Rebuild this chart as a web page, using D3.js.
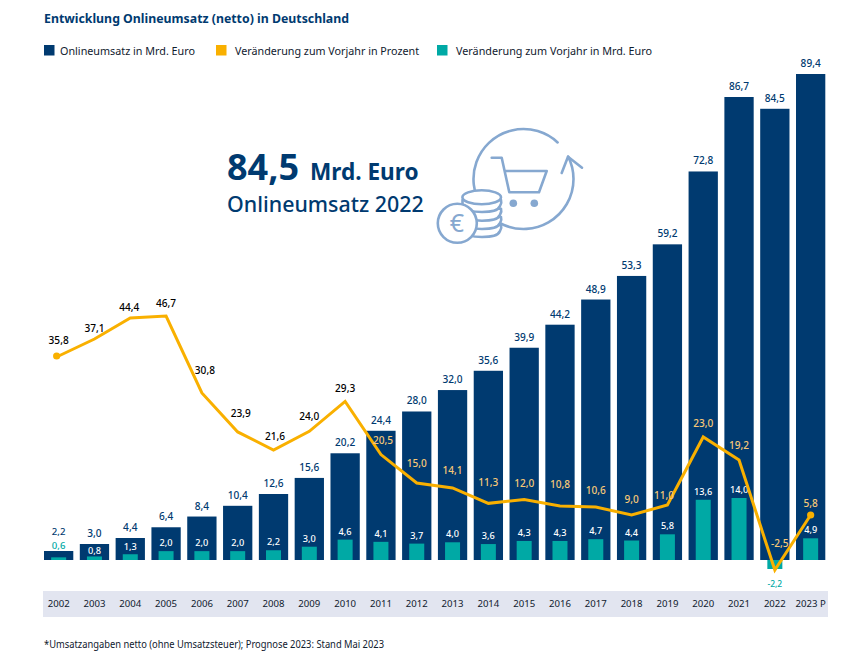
<!DOCTYPE html>
<html lang="de">
<head>
<meta charset="utf-8">
<script src="https://cdn.jsdelivr.net/npm/d3@7"></script>
<style>
html,body{margin:0;padding:0;background:#fff}
svg{display:block;font-family:"Noto Sans",sans-serif}
</style>
</head>
<body>
<svg id="c" width="854" height="657"></svg>
<script>
// ---- data ----
const jahre = ["2002","2003","2004","2005","2006","2007","2008","2009","2010","2011","2012","2013","2014","2015","2016","2017","2018","2019","2020","2021","2022","2023 P"];
const umsatz = [2.2,3.0,4.4,6.4,8.4,10.4,12.6,15.6,20.2,24.4,28.0,32.0,35.6,39.9,44.2,48.9,53.3,59.2,72.8,86.7,84.5,89.4];
const prozent = [35.8,37.1,44.4,46.7,30.8,23.9,21.6,24.0,29.3,20.5,15.0,14.1,11.3,12.0,10.8,10.6,9.0,11.0,23.0,19.2,-2.5,5.8];
const mrd = [0.6,0.8,1.3,2.0,2.0,2.0,2.2,3.0,4.6,4.1,3.7,4.0,3.6,4.3,4.3,4.7,4.4,5.8,13.6,14.0,-2.2,4.9];
const legende = ["Onlineumsatz in Mrd. Euro","Veränderung zum Vorjahr in Prozent","Veränderung zum Vorjahr in Mrd. Euro"];

// ---- label placement (layout, not data) ----
const prozentDx = [0,0,-1,0,3,3,1.5,0,0,2,0,0,0,0,0,0,0,-3.5,0,0,5,0];
const prozentDy = [-16,-11,-11,-13,-23,-19,-14,-15,-12.6,-14.6,-20,-18,-21,-16,-22,-17,-16,-10,-14,-15,-27,-12];

// ---- colours ----
const navy="#003a70", amber="#f9b000", teal="#00a9a5", pale="#f6c877", band="#e2e5f0", iconCol="#86a8d0", ink="#10202e";

const svg=d3.select("#c");
const fmt=d3.formatLocale({decimal:",",thousands:".",grouping:[3],currency:["","€"],minus:"-"}).format(".1f");

// ---- scales ----
const x=d3.scaleBand().domain(jahre).range([44,825.3]).paddingInner(0.182).paddingOuter(0);
const cx=d=>x(d)+x.bandwidth()/2;
const yBar=d3.scaleLinear().domain([0,2.2,3,4.4,12.6,86.7,89.4]).range([560,551,544,538,494,97,74]);
const yDelta=d3.scaleLinear().domain([-2.2,0,14]).range([569,560,498]);
const yPct=d3.scaleLinear()
  .domain([-2.5,5.8,9,11,19.2,21.6,23,30.8,35.8,37.1,44.4,46.7])
  .range([570,515,515,505,460,450,437,393,356,339,318,316]);

// ---- title + legend ----
svg.append("text").attr("x",44).attr("y",22.5).attr("font-size",13).attr("font-weight",700).attr("fill",navy)
  .attr("textLength",305).attr("lengthAdjust","spacingAndGlyphs")
  .text("Entwicklung Onlineumsatz (netto) in Deutschland");
const legX=[[44,60],[216,235],[437,456]], legC=[navy,amber,teal], legW=[135,184,196];
legende.forEach((t,i)=>{
  svg.append("rect").attr("x",legX[i][0]).attr("y",45).attr("width",10.5).attr("height",10.5).attr("fill",legC[i]);
  svg.append("text").attr("x",legX[i][1]).attr("y",55).attr("font-size",10.7).attr("fill",ink)
    .attr("textLength",legW[i]).attr("lengthAdjust","spacingAndGlyphs").text(t);
});

// ---- year band + axis ----
svg.append("rect").attr("x",43).attr("y",591).attr("width",785).attr("height",26).attr("fill",band);
const ax=svg.append("g").attr("transform","translate(0,600.5)")
  .call(d3.axisBottom(x).tickSize(0).tickPadding(0));
ax.select(".domain").remove();
ax.selectAll("text").attr("font-size",9.6).attr("fill",ink).attr("font-family",'"Noto Sans",sans-serif');

// ---- bars ----
svg.append("g").selectAll("rect").data(umsatz).join("rect")
  .attr("x",(d,i)=>x(jahre[i])).attr("width",x.bandwidth())
  .attr("y",d=>yBar(d)).attr("height",d=>yBar(0)-yBar(d)).attr("fill",navy);
svg.append("g").selectAll("rect").data(mrd).join("rect")
  .attr("x",(d,i)=>cx(jahre[i])-7.5).attr("width",15)
  .attr("y",d=>Math.min(yDelta(d),yDelta(0))).attr("height",d=>Math.abs(yDelta(d)-yDelta(0))).attr("fill",teal);

// ---- bar labels ----
svg.append("g").selectAll("text").data(umsatz).join("text")
  .attr("x",(d,i)=>cx(jahre[i])).attr("y",(d,i)=>yBar(d)-(i===0?16:7))
  .attr("text-anchor","middle").attr("font-size",(d,i)=>i===0?9.6:10.1).attr("font-weight",500).attr("fill",navy).text(d=>fmt(d));
svg.append("g").selectAll("text").data(mrd).join("text")
  .attr("x",(d,i)=>cx(jahre[i]))
  .attr("y",(d,i)=>d<0?yDelta(d)+18:(i===0?yDelta(d)-8.8:i===1?yDelta(d)-2.2:i===2?yDelta(d)-4:yDelta(d)-5))
  .attr("text-anchor","middle")
  .attr("font-size",(d,i)=>d<0?8.5:(i===0?9.6:9.2))
  .attr("font-weight",500)
  .attr("fill",(d,i)=>(d<0||i===0)?teal:"#fff").text(d=>fmt(d));

// ---- line ----
const line=d3.line().x((d,i)=>cx(jahre[i])).y(d=>yPct(d));
svg.append("path").attr("d",line(prozent)).attr("fill","none").attr("stroke",amber).attr("stroke-width",3).attr("stroke-linejoin","miter");
[0,prozent.length-1].forEach(i=>{
  svg.append("circle").attr("cx",cx(jahre[i])-(i===0?2:0)).attr("cy",yPct(prozent[i])).attr("r",3.6).attr("fill",amber);
});
svg.append("g").selectAll("text").data(prozent).join("text")
  .attr("x",(d,i)=>cx(jahre[i])+prozentDx[i])
  .attr("y",(d,i)=>yPct(d)+prozentDy[i]+3.6)
  .attr("text-anchor","middle").attr("font-size",10.1).attr("font-weight",500)
  .attr("fill",(d,i)=>(i<=8)?"#000":pale).text(d=>fmt(d));

// ---- headline ----
svg.append("text").attr("x",227).attr("y",180).attr("font-size",36).attr("font-weight",700).attr("fill",navy).text("84,5");
svg.append("text").attr("x",310).attr("y",180).attr("font-size",22.6).attr("font-weight",700).attr("fill",navy).text("Mrd. Euro");
svg.append("text").attr("x",227).attr("y",212).attr("font-size",21.4).attr("font-weight",500).attr("fill",navy).text("Onlineumsatz 2022");

// ---- icon ----
const ic=svg.append("g").attr("fill","none").attr("stroke",iconCol).attr("stroke-width",2.6).attr("stroke-linecap","round").attr("stroke-linejoin","round");
const rad=d=>d*Math.PI/180;
const ring=d3.path(); ring.arc(523.5,179,50,rad(63.4-90),rad(43-90),false);
ic.append("path").attr("d",ring.toString());
ic.append("path").attr("d","M561.7,173L568,156.7L582,167.7");
ic.append("path").attr("d","M491.7,157.7H501.7L509.3,192.3H539L546.7,171H505");
[513.3,534.3].forEach(a=>ic.append("circle").attr("cx",a).attr("cy",203.3).attr("r",3.8).attr("fill",iconCol).attr("stroke","none"));
[233,225,216.7,208].forEach(yy=>{
  ic.append("path").attr("fill","#fff")
    .attr("d",`M462.5,${yy-8}V${yy-1}C466,${yy+3} 472,${yy+4} 482,${yy+4}C492,${yy+4} 498,${yy+3} 500,${yy-2}C502,${yy-5} 501,${yy-8} 501,${yy-8}Z`);
});
ic.append("ellipse").attr("cx",481.7).attr("cy",197.3).attr("rx",19.3).attr("ry",7).attr("fill","#fff");
ic.append("circle").attr("cx",457.3).attr("cy",223.3).attr("r",19.5).attr("fill","#fff");
svg.append("text").attr("x",457).attr("y",232).attr("text-anchor","middle").attr("font-size",25).attr("fill",iconCol).text("€");

// ---- footnote ----
svg.append("text").attr("x",44).attr("y",648).attr("font-size",10).attr("fill",ink)
  .attr("textLength",340).attr("lengthAdjust","spacingAndGlyphs")
  .text("*Umsatzangaben netto (ohne Umsatzsteuer); Prognose 2023: Stand Mai 2023");
</script>
</body>
</html>
